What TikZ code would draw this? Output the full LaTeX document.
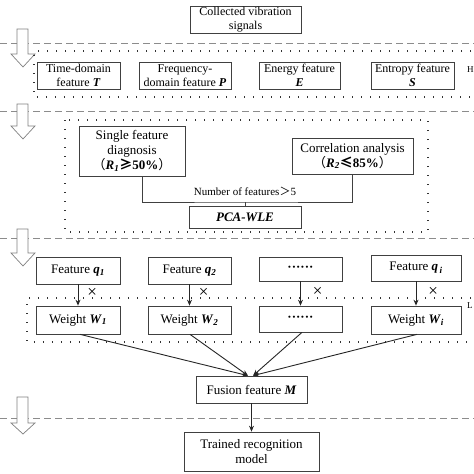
\documentclass[tikz,border=0pt]{standalone}
\usepackage{fontspec}
\setmainfont{Liberation Serif}
\newfontfamily\cjk{Noto Sans CJK SC}
\usetikzlibrary{arrows.meta}

\newcommand\bi[1]{\textbf{\textit{#1}}}
\newcommand\bisub[2]{\textbf{\textit{#1}}\textsubscript{\textbf{\textit{#2}}}}

\tikzset{
  box/.style={draw=black!75, line width=0.7pt, inner sep=1pt, align=center,
    font=\fontsize{13}{15}\selectfont},
  smallbox/.style={box, font=\fontsize{12}{14}\selectfont},
  sep/.style={draw=black!45, line width=0.8pt, dash pattern=on 7pt off 4pt},
  dotbox/.style={draw=black!80, line width=1.1pt, dash pattern=on 1.1pt off 7.9pt},
  hollow/.style={draw=black!50, fill=white, line width=0.7pt},
  link/.style={draw=black!85, line width=0.9pt, -{Stealth[length=6pt,width=5pt]}},
  times/.style={font=\fontsize{17}{17}\selectfont, inner sep=0pt},
}

\begin{document}
\begin{tikzpicture}[x=1pt,y=-1pt]
\useasboundingbox (0,0) rectangle (474,474);

% stage separators
\draw[sep] (0,43) -- (474,43);
\draw[sep] (0,111) -- (474,111);
\draw[sep] (0,238) -- (474,238);
\draw[sep] (0,418) -- (474,418);

% hollow stage arrows
\draw[hollow] (17,29) -- (28,29) -- (28,54) -- (35,54) -- (23,67) -- (11,54) -- (17,54) -- cycle;
\draw[hollow] (17,104) -- (28,104) -- (28,126) -- (35,126) -- (23,139) -- (11,126) -- (17,126) -- cycle;
\draw[hollow] (17,229) -- (28,229) -- (28,253) -- (35,253) -- (23,266) -- (11,253) -- (17,253) -- cycle;
\draw[hollow] (17,397) -- (28,397) -- (28,423) -- (35,423) -- (23,434) -- (11,423) -- (17,423) -- cycle;

% dotted groups
\draw[dotbox] (480,51) -- (34,51) -- (34,97) -- (480,97);
\draw[dotbox] (65,120) rectangle (428,232);
\draw[dotbox] (480,298) -- (27,298) -- (27,342) -- (480,342);

% clipped side labels
\node[anchor=west, font=\fontsize{9}{9}\selectfont, inner sep=0] (hlab) at (467,70) {H};
\node[anchor=west, font=\fontsize{9}{9}\selectfont, inner sep=0] (llab) at (467,306) {L};

% signals
\node[smallbox, minimum width=111pt, minimum height=26pt] (signal) at (245.5,20) {Collected vibration\\signals};

% feature extraction
\node[smallbox, minimum width=83pt, minimum height=27pt] (ft) at (78.5,75.5) {Time-domain\\feature \bi{T}};
\node[smallbox, minimum width=92pt, minimum height=27pt] (fp) at (185,75.5) {Frequency-\\domain feature \bi{P}};
\node[smallbox, minimum width=81pt, minimum height=27pt] (fe) at (299.5,75.5) {Energy feature\\\bi{E}};
\node[smallbox, minimum width=83pt, minimum height=27pt] (fs) at (412.5,75.5) {Entropy feature\\\bi{S}};

% selection
\node[box, minimum width=106pt, minimum height=50pt] (single) at (132,151)
  {Single feature\\diagnosis\\{\cjk （}\textbf{\bisub{R}{1}{\cjk ≥}50\%}{\cjk ）}};
\node[box, minimum width=121pt, minimum height=36pt] (corr) at (352.5,156)
  {Correlation analysis\\{\cjk （}\textbf{\bisub{R}{2}{\cjk ≤}85\%}{\cjk ）}};
\node[box, minimum width=112pt, minimum height=22pt] (pca) at (245,217) {\bi{PCA-WLE}};
\coordinate (join) at (245,202);
\draw[draw=black!75, line width=0.7pt] ([xshift=10pt]single.south) |- (join) -| (corr.south);
\draw[draw=black!75, line width=0.7pt] (join) -- (pca.north);
\node[font=\fontsize{11}{12}\selectfont, inner sep=1pt] (nlab) at (245,191) {Number of features{\cjk ＞}5};

% weighting
\node[box, minimum width=84pt, minimum height=27pt] (q1) at (78,270.5) {Feature \bisub{q}{1}};
\node[box, minimum width=83pt, minimum height=27pt] (q2) at (189.5,270.5) {Feature \bisub{q}{2}};
\node[box, minimum width=83pt, minimum height=24pt] (qd) at (300.5,269) {\textbf{······}};
\node[box, minimum width=90pt, minimum height=26pt] (qi) at (416,268) {Feature \bisub{q}{\,i}};
\node[box, minimum width=84pt, minimum height=28pt] (w1) at (78,320) {Weight \bisub{W}{1}};
\node[box, minimum width=83pt, minimum height=28pt] (w2) at (189.5,320) {Weight \bisub{W}{2}};
\node[box, minimum width=83pt, minimum height=26pt] (wd) at (300.5,319) {\textbf{······}};
\node[box, minimum width=90pt, minimum height=28pt] (wi) at (416,320) {Weight \bisub{W}{i}};
\draw[link] (q1.south) -- (w1.north) node[midway, right=9pt, yshift=2pt, times] {×};
\draw[link] (q2.south) -- (w2.north) node[midway, right=9pt, yshift=2pt, times] {×};
\draw[link] (qd.south) -- (wd.north) node[midway, right=12pt, yshift=2pt, times] {×};
\draw[link] (qi.south) -- (wi.north) node[midway, right=12pt, yshift=2pt, times] {×};

% fusion
\node[box, minimum width=111pt, minimum height=27pt] (fusion) at (251.5,389.5) {Fusion feature \bi{M}};
\draw[link] ([xshift=2pt]w1.south) -- ([xshift=-3.5pt]fusion.north);
\draw[link] ([xshift=0.5pt]w2.south) -- ([xshift=-3.5pt]fusion.north);
\draw[link] ([xshift=1.5pt]wd.south) -- ([xshift=1.5pt]fusion.north);
\draw[link] ([xshift=1pt]wi.south) -- ([xshift=1.5pt]fusion.north);

% model
\node[box, minimum width=135pt, minimum height=39pt] (model) at (251.5,451.5) {Trained recognition\\model};
\draw[link] (fusion.south) -- (model.north);
\end{tikzpicture}
\end{document}
